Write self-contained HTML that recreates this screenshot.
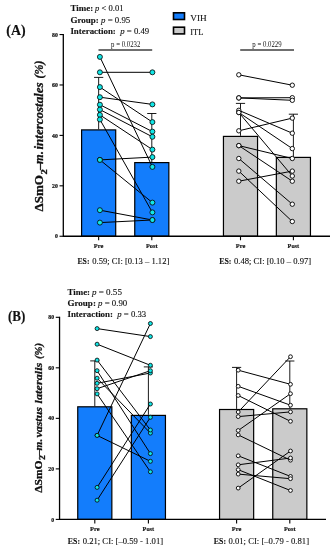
<!DOCTYPE html>
<html lang="en"><head><meta charset="utf-8"><title>Figure</title>
<style>html,body{margin:0;padding:0;background:#fff}svg{display:block}text{font-family:'Liberation Serif', serif;fill:#111}</style>
</head><body>
<svg width="333" height="550" viewBox="0 0 333 550">
<rect width="333" height="550" fill="#fff"/>
<rect x="81.60" y="129.90" width="34.1" height="106.35" fill="#137dfc" stroke="#000" stroke-width="1.2"/>
<rect x="134.75" y="162.60" width="34.1" height="73.65" fill="#137dfc" stroke="#000" stroke-width="1.2"/>
<rect x="223.45" y="136.40" width="34.1" height="99.85" fill="#cbcbcb" stroke="#000" stroke-width="1.2"/>
<rect x="276.35" y="157.40" width="34.1" height="78.85" fill="#cbcbcb" stroke="#000" stroke-width="1.2"/>
<path d="M98.65 129.30V77.40M94.05 77.40H103.25" stroke="#000" stroke-width="0.9" fill="none"/>
<path d="M151.80 162.00V113.50M147.20 113.50H156.40" stroke="#000" stroke-width="0.9" fill="none"/>
<path d="M240.50 135.80V103.40M235.90 103.40H245.10" stroke="#000" stroke-width="0.9" fill="none"/>
<path d="M293.40 156.80V114.20M288.80 114.20H298.00" stroke="#000" stroke-width="0.9" fill="none"/>
<path d="M63.3 33.95V236.90M62.65 236.25H330" stroke="#000" stroke-width="1.3" fill="none"/>
<path d="M59.50 34.55H63.3" stroke="#000" stroke-width="1.1"/>
<text x="57.9" y="36.65" font-size="5.8" font-weight="bold" font-style="normal" text-anchor="end" stroke="#111" stroke-width="0.2">80</text>
<path d="M59.50 84.97H63.3" stroke="#000" stroke-width="1.1"/>
<text x="57.9" y="87.07" font-size="5.8" font-weight="bold" font-style="normal" text-anchor="end" stroke="#111" stroke-width="0.2">60</text>
<path d="M59.50 135.40H63.3" stroke="#000" stroke-width="1.1"/>
<text x="57.9" y="137.50" font-size="5.8" font-weight="bold" font-style="normal" text-anchor="end" stroke="#111" stroke-width="0.2">40</text>
<path d="M59.50 185.82H63.3" stroke="#000" stroke-width="1.1"/>
<text x="57.9" y="187.92" font-size="5.8" font-weight="bold" font-style="normal" text-anchor="end" stroke="#111" stroke-width="0.2">20</text>
<path d="M59.50 236.25H63.3" stroke="#000" stroke-width="1.1"/>
<text x="57.9" y="238.35" font-size="5.8" font-weight="bold" font-style="normal" text-anchor="end" stroke="#111" stroke-width="0.2">0</text>
<path d="M98.65 236.25V240.25" stroke="#000" stroke-width="1.1"/>
<text x="98.65" y="248.05" font-size="6.6" font-weight="bold" font-style="normal" text-anchor="middle" textLength="9.6" lengthAdjust="spacingAndGlyphs" stroke="#111" stroke-width="0.15">Pre</text>
<path d="M151.80 236.25V240.25" stroke="#000" stroke-width="1.1"/>
<text x="151.80" y="248.05" font-size="6.6" font-weight="bold" font-style="normal" text-anchor="middle" textLength="11.6" lengthAdjust="spacingAndGlyphs" stroke="#111" stroke-width="0.15">Post</text>
<path d="M240.50 236.25V240.25" stroke="#000" stroke-width="1.1"/>
<text x="240.50" y="248.05" font-size="6.6" font-weight="bold" font-style="normal" text-anchor="middle" textLength="9.6" lengthAdjust="spacingAndGlyphs" stroke="#111" stroke-width="0.15">Pre</text>
<path d="M293.40 236.25V240.25" stroke="#000" stroke-width="1.1"/>
<text x="293.40" y="248.05" font-size="6.6" font-weight="bold" font-style="normal" text-anchor="middle" textLength="11.6" lengthAdjust="spacingAndGlyphs" stroke="#111" stroke-width="0.15">Post</text>
<path d="M99.90 56.9L152.40 166.9" stroke="#000" stroke-width="1" fill="none"/>
<path d="M99.90 72.3L152.40 72.3" stroke="#000" stroke-width="1" fill="none"/>
<path d="M99.90 87.1L152.40 122.1" stroke="#000" stroke-width="1" fill="none"/>
<path d="M99.90 97.2L152.40 104.4" stroke="#000" stroke-width="1" fill="none"/>
<path d="M99.90 104.7L152.40 131.6" stroke="#000" stroke-width="1" fill="none"/>
<path d="M99.90 109.6L152.40 136.8" stroke="#000" stroke-width="1" fill="none"/>
<path d="M99.90 114.9L152.40 149.6" stroke="#000" stroke-width="1" fill="none"/>
<path d="M99.90 119.5L152.40 212.4" stroke="#000" stroke-width="1" fill="none"/>
<path d="M99.90 159.9L152.40 157.1" stroke="#000" stroke-width="1" fill="none"/>
<path d="M99.90 159.9L152.40 202.6" stroke="#000" stroke-width="1" fill="none"/>
<path d="M99.90 210.2L152.40 220.0" stroke="#000" stroke-width="1" fill="none"/>
<path d="M99.90 222.6L152.40 220.0" stroke="#000" stroke-width="1" fill="none"/>
<circle cx="99.90" cy="56.9" r="2.5" fill="#10e6e6" stroke="#0a0a0a" stroke-width="0.85"/>
<circle cx="152.40" cy="166.9" r="2.5" fill="#10e6e6" stroke="#0a0a0a" stroke-width="0.85"/>
<circle cx="99.90" cy="72.3" r="2.5" fill="#10e6e6" stroke="#0a0a0a" stroke-width="0.85"/>
<circle cx="152.40" cy="72.3" r="2.5" fill="#10e6e6" stroke="#0a0a0a" stroke-width="0.85"/>
<circle cx="99.90" cy="87.1" r="2.5" fill="#10e6e6" stroke="#0a0a0a" stroke-width="0.85"/>
<circle cx="152.40" cy="122.1" r="2.5" fill="#10e6e6" stroke="#0a0a0a" stroke-width="0.85"/>
<circle cx="99.90" cy="97.2" r="2.5" fill="#10e6e6" stroke="#0a0a0a" stroke-width="0.85"/>
<circle cx="152.40" cy="104.4" r="2.5" fill="#10e6e6" stroke="#0a0a0a" stroke-width="0.85"/>
<circle cx="99.90" cy="104.7" r="2.5" fill="#10e6e6" stroke="#0a0a0a" stroke-width="0.85"/>
<circle cx="152.40" cy="131.6" r="2.5" fill="#10e6e6" stroke="#0a0a0a" stroke-width="0.85"/>
<circle cx="99.90" cy="109.6" r="2.5" fill="#10e6e6" stroke="#0a0a0a" stroke-width="0.85"/>
<circle cx="152.40" cy="136.8" r="2.5" fill="#10e6e6" stroke="#0a0a0a" stroke-width="0.85"/>
<circle cx="99.90" cy="114.9" r="2.5" fill="#10e6e6" stroke="#0a0a0a" stroke-width="0.85"/>
<circle cx="152.40" cy="149.6" r="2.5" fill="#10e6e6" stroke="#0a0a0a" stroke-width="0.85"/>
<circle cx="99.90" cy="119.5" r="2.5" fill="#10e6e6" stroke="#0a0a0a" stroke-width="0.85"/>
<circle cx="152.40" cy="212.4" r="2.5" fill="#10e6e6" stroke="#0a0a0a" stroke-width="0.85"/>
<circle cx="99.90" cy="159.9" r="2.5" fill="#10e6e6" stroke="#0a0a0a" stroke-width="0.85"/>
<circle cx="152.40" cy="157.1" r="2.5" fill="#10e6e6" stroke="#0a0a0a" stroke-width="0.85"/>
<circle cx="99.90" cy="159.9" r="2.5" fill="#10e6e6" stroke="#0a0a0a" stroke-width="0.85"/>
<circle cx="152.40" cy="202.6" r="2.5" fill="#10e6e6" stroke="#0a0a0a" stroke-width="0.85"/>
<circle cx="99.90" cy="210.2" r="2.5" fill="#10e6e6" stroke="#0a0a0a" stroke-width="0.85"/>
<circle cx="152.40" cy="220.0" r="2.5" fill="#10e6e6" stroke="#0a0a0a" stroke-width="0.85"/>
<circle cx="99.90" cy="222.6" r="2.5" fill="#10e6e6" stroke="#0a0a0a" stroke-width="0.85"/>
<circle cx="152.40" cy="220.0" r="2.5" fill="#10e6e6" stroke="#0a0a0a" stroke-width="0.85"/>
<path d="M238.80 74.8L292.30 85.2" stroke="#000" stroke-width="1" fill="none"/>
<path d="M238.80 97.9L292.30 97.7" stroke="#000" stroke-width="1" fill="none"/>
<path d="M238.80 97.9L292.30 100.3" stroke="#000" stroke-width="1" fill="none"/>
<path d="M238.80 110.3L292.30 133.2" stroke="#000" stroke-width="1" fill="none"/>
<path d="M238.80 112.5L292.30 148.6" stroke="#000" stroke-width="1" fill="none"/>
<path d="M238.80 112.5L292.30 176" stroke="#000" stroke-width="1" fill="none"/>
<path d="M238.80 130.8L292.30 118.1" stroke="#000" stroke-width="1" fill="none"/>
<path d="M238.80 145.6L292.30 158.5" stroke="#000" stroke-width="1" fill="none"/>
<path d="M238.80 145.6L292.30 181.2" stroke="#000" stroke-width="1" fill="none"/>
<path d="M238.80 158.5L292.30 204.2" stroke="#000" stroke-width="1" fill="none"/>
<path d="M238.80 171.1L292.30 221.5" stroke="#000" stroke-width="1" fill="none"/>
<path d="M238.80 181.2L292.30 171.1" stroke="#000" stroke-width="1" fill="none"/>
<circle cx="238.80" cy="74.8" r="2.2" fill="#fff" stroke="#0a0a0a" stroke-width="0.95"/>
<circle cx="292.30" cy="85.2" r="2.2" fill="#fff" stroke="#0a0a0a" stroke-width="0.95"/>
<circle cx="238.80" cy="97.9" r="2.2" fill="#fff" stroke="#0a0a0a" stroke-width="0.95"/>
<circle cx="292.30" cy="97.7" r="2.2" fill="#fff" stroke="#0a0a0a" stroke-width="0.95"/>
<circle cx="238.80" cy="97.9" r="2.2" fill="#fff" stroke="#0a0a0a" stroke-width="0.95"/>
<circle cx="292.30" cy="100.3" r="2.2" fill="#fff" stroke="#0a0a0a" stroke-width="0.95"/>
<circle cx="238.80" cy="110.3" r="2.2" fill="#fff" stroke="#0a0a0a" stroke-width="0.95"/>
<circle cx="292.30" cy="133.2" r="2.2" fill="#fff" stroke="#0a0a0a" stroke-width="0.95"/>
<circle cx="238.80" cy="112.5" r="2.2" fill="#fff" stroke="#0a0a0a" stroke-width="0.95"/>
<circle cx="292.30" cy="148.6" r="2.2" fill="#fff" stroke="#0a0a0a" stroke-width="0.95"/>
<circle cx="238.80" cy="112.5" r="2.2" fill="#fff" stroke="#0a0a0a" stroke-width="0.95"/>
<circle cx="292.30" cy="176" r="2.2" fill="#fff" stroke="#0a0a0a" stroke-width="0.95"/>
<circle cx="238.80" cy="130.8" r="2.2" fill="#fff" stroke="#0a0a0a" stroke-width="0.95"/>
<circle cx="292.30" cy="118.1" r="2.2" fill="#fff" stroke="#0a0a0a" stroke-width="0.95"/>
<circle cx="238.80" cy="145.6" r="2.2" fill="#fff" stroke="#0a0a0a" stroke-width="0.95"/>
<circle cx="292.30" cy="158.5" r="2.2" fill="#fff" stroke="#0a0a0a" stroke-width="0.95"/>
<circle cx="238.80" cy="145.6" r="2.2" fill="#fff" stroke="#0a0a0a" stroke-width="0.95"/>
<circle cx="292.30" cy="181.2" r="2.2" fill="#fff" stroke="#0a0a0a" stroke-width="0.95"/>
<circle cx="238.80" cy="158.5" r="2.2" fill="#fff" stroke="#0a0a0a" stroke-width="0.95"/>
<circle cx="292.30" cy="204.2" r="2.2" fill="#fff" stroke="#0a0a0a" stroke-width="0.95"/>
<circle cx="238.80" cy="171.1" r="2.2" fill="#fff" stroke="#0a0a0a" stroke-width="0.95"/>
<circle cx="292.30" cy="221.5" r="2.2" fill="#fff" stroke="#0a0a0a" stroke-width="0.95"/>
<circle cx="238.80" cy="181.2" r="2.2" fill="#fff" stroke="#0a0a0a" stroke-width="0.95"/>
<circle cx="292.30" cy="171.1" r="2.2" fill="#fff" stroke="#0a0a0a" stroke-width="0.95"/>
<rect x="77.75" y="406.80" width="34.1" height="112.60" fill="#137dfc" stroke="#000" stroke-width="1.2"/>
<rect x="131.35" y="415.40" width="34.1" height="104.00" fill="#137dfc" stroke="#000" stroke-width="1.2"/>
<rect x="219.55" y="409.50" width="34.1" height="109.90" fill="#cbcbcb" stroke="#000" stroke-width="1.2"/>
<rect x="272.75" y="408.80" width="34.1" height="110.60" fill="#cbcbcb" stroke="#000" stroke-width="1.2"/>
<path d="M94.80 406.20V360.90M90.20 360.90H99.40" stroke="#000" stroke-width="0.9" fill="none"/>
<path d="M148.40 414.80V366.90M143.80 366.90H153.00" stroke="#000" stroke-width="0.9" fill="none"/>
<path d="M236.60 408.90V367.40M232.00 367.40H241.20" stroke="#000" stroke-width="0.9" fill="none"/>
<path d="M289.80 408.20V361.00M285.20 361.00H294.40" stroke="#000" stroke-width="0.9" fill="none"/>
<path d="M59.55 316.70V520.05M58.90 519.4H326" stroke="#000" stroke-width="1.3" fill="none"/>
<path d="M55.75 317.30H59.55" stroke="#000" stroke-width="1.1"/>
<text x="54.15" y="319.40" font-size="5.8" font-weight="bold" font-style="normal" text-anchor="end" stroke="#111" stroke-width="0.2">80</text>
<path d="M55.75 367.82H59.55" stroke="#000" stroke-width="1.1"/>
<text x="54.15" y="369.93" font-size="5.8" font-weight="bold" font-style="normal" text-anchor="end" stroke="#111" stroke-width="0.2">60</text>
<path d="M55.75 418.35H59.55" stroke="#000" stroke-width="1.1"/>
<text x="54.15" y="420.45" font-size="5.8" font-weight="bold" font-style="normal" text-anchor="end" stroke="#111" stroke-width="0.2">40</text>
<path d="M55.75 468.88H59.55" stroke="#000" stroke-width="1.1"/>
<text x="54.15" y="470.98" font-size="5.8" font-weight="bold" font-style="normal" text-anchor="end" stroke="#111" stroke-width="0.2">20</text>
<path d="M55.75 519.40H59.55" stroke="#000" stroke-width="1.1"/>
<text x="54.15" y="521.50" font-size="5.8" font-weight="bold" font-style="normal" text-anchor="end" stroke="#111" stroke-width="0.2">0</text>
<path d="M94.80 519.4V523.40" stroke="#000" stroke-width="1.1"/>
<text x="94.80" y="531.20" font-size="6.6" font-weight="bold" font-style="normal" text-anchor="middle" textLength="9.6" lengthAdjust="spacingAndGlyphs" stroke="#111" stroke-width="0.15">Pre</text>
<path d="M148.40 519.4V523.40" stroke="#000" stroke-width="1.1"/>
<text x="148.40" y="531.20" font-size="6.6" font-weight="bold" font-style="normal" text-anchor="middle" textLength="11.6" lengthAdjust="spacingAndGlyphs" stroke="#111" stroke-width="0.15">Post</text>
<path d="M236.60 519.4V523.40" stroke="#000" stroke-width="1.1"/>
<text x="236.60" y="531.20" font-size="6.6" font-weight="bold" font-style="normal" text-anchor="middle" textLength="9.6" lengthAdjust="spacingAndGlyphs" stroke="#111" stroke-width="0.15">Pre</text>
<path d="M289.80 519.4V523.40" stroke="#000" stroke-width="1.1"/>
<text x="289.80" y="531.20" font-size="6.6" font-weight="bold" font-style="normal" text-anchor="middle" textLength="11.6" lengthAdjust="spacingAndGlyphs" stroke="#111" stroke-width="0.15">Post</text>
<path d="M97.10 328.6L150.40 336.6" stroke="#000" stroke-width="1" fill="none"/>
<path d="M97.10 344.2L150.40 365.3" stroke="#000" stroke-width="1" fill="none"/>
<path d="M97.10 435.4L150.40 323.5" stroke="#000" stroke-width="1" fill="none"/>
<path d="M97.10 435.4L150.40 461.3" stroke="#000" stroke-width="1" fill="none"/>
<path d="M97.10 487.4L150.40 404" stroke="#000" stroke-width="1" fill="none"/>
<path d="M97.10 500.2L150.40 417.3" stroke="#000" stroke-width="1" fill="none"/>
<path d="M97.10 378.2L150.40 433.1" stroke="#000" stroke-width="1" fill="none"/>
<path d="M97.10 383.3L150.40 373" stroke="#000" stroke-width="1" fill="none"/>
<path d="M97.10 388.7L150.40 370.7" stroke="#000" stroke-width="1" fill="none"/>
<path d="M97.10 360.1L150.40 430" stroke="#000" stroke-width="1" fill="none"/>
<path d="M97.10 370.7L150.40 453.6" stroke="#000" stroke-width="1" fill="none"/>
<path d="M97.10 393.9L150.40 471.8" stroke="#000" stroke-width="1" fill="none"/>
<circle cx="97.10" cy="328.6" r="2.0" fill="#10e6e6" stroke="#0a0a0a" stroke-width="0.85"/>
<circle cx="150.40" cy="336.6" r="2.0" fill="#10e6e6" stroke="#0a0a0a" stroke-width="0.85"/>
<circle cx="97.10" cy="344.2" r="2.0" fill="#10e6e6" stroke="#0a0a0a" stroke-width="0.85"/>
<circle cx="150.40" cy="365.3" r="2.0" fill="#10e6e6" stroke="#0a0a0a" stroke-width="0.85"/>
<circle cx="97.10" cy="435.4" r="2.0" fill="#10e6e6" stroke="#0a0a0a" stroke-width="0.85"/>
<circle cx="150.40" cy="323.5" r="2.0" fill="#10e6e6" stroke="#0a0a0a" stroke-width="0.85"/>
<circle cx="97.10" cy="435.4" r="2.0" fill="#10e6e6" stroke="#0a0a0a" stroke-width="0.85"/>
<circle cx="150.40" cy="461.3" r="2.0" fill="#10e6e6" stroke="#0a0a0a" stroke-width="0.85"/>
<circle cx="97.10" cy="487.4" r="2.0" fill="#10e6e6" stroke="#0a0a0a" stroke-width="0.85"/>
<circle cx="150.40" cy="404" r="2.0" fill="#10e6e6" stroke="#0a0a0a" stroke-width="0.85"/>
<circle cx="97.10" cy="500.2" r="2.0" fill="#10e6e6" stroke="#0a0a0a" stroke-width="0.85"/>
<circle cx="150.40" cy="417.3" r="2.0" fill="#10e6e6" stroke="#0a0a0a" stroke-width="0.85"/>
<circle cx="97.10" cy="378.2" r="2.0" fill="#10e6e6" stroke="#0a0a0a" stroke-width="0.85"/>
<circle cx="150.40" cy="433.1" r="2.0" fill="#10e6e6" stroke="#0a0a0a" stroke-width="0.85"/>
<circle cx="97.10" cy="383.3" r="2.0" fill="#10e6e6" stroke="#0a0a0a" stroke-width="0.85"/>
<circle cx="150.40" cy="373" r="2.0" fill="#10e6e6" stroke="#0a0a0a" stroke-width="0.85"/>
<circle cx="97.10" cy="388.7" r="2.0" fill="#10e6e6" stroke="#0a0a0a" stroke-width="0.85"/>
<circle cx="150.40" cy="370.7" r="2.0" fill="#10e6e6" stroke="#0a0a0a" stroke-width="0.85"/>
<circle cx="97.10" cy="360.1" r="2.0" fill="#10e6e6" stroke="#0a0a0a" stroke-width="0.85"/>
<circle cx="150.40" cy="430" r="2.0" fill="#10e6e6" stroke="#0a0a0a" stroke-width="0.85"/>
<circle cx="97.10" cy="370.7" r="2.0" fill="#10e6e6" stroke="#0a0a0a" stroke-width="0.85"/>
<circle cx="150.40" cy="453.6" r="2.0" fill="#10e6e6" stroke="#0a0a0a" stroke-width="0.85"/>
<circle cx="97.10" cy="393.9" r="2.0" fill="#10e6e6" stroke="#0a0a0a" stroke-width="0.85"/>
<circle cx="150.40" cy="471.8" r="2.0" fill="#10e6e6" stroke="#0a0a0a" stroke-width="0.85"/>
<path d="M238.20 370.2L290.50 384.3" stroke="#000" stroke-width="1" fill="none"/>
<path d="M238.20 386.3L290.50 405.2" stroke="#000" stroke-width="1" fill="none"/>
<path d="M238.20 395.5L290.50 421.3" stroke="#000" stroke-width="1" fill="none"/>
<path d="M238.20 412L290.50 356.7" stroke="#000" stroke-width="1" fill="none"/>
<path d="M238.20 416.6L290.50 411.9" stroke="#000" stroke-width="1" fill="none"/>
<path d="M238.20 430.5L290.50 393.7" stroke="#000" stroke-width="1" fill="none"/>
<path d="M238.20 434.9L290.50 460.2" stroke="#000" stroke-width="1" fill="none"/>
<path d="M238.20 455.8L290.50 476.4" stroke="#000" stroke-width="1" fill="none"/>
<path d="M238.20 464.8L290.50 458.0" stroke="#000" stroke-width="1" fill="none"/>
<path d="M238.20 469.7L290.50 490.5" stroke="#000" stroke-width="1" fill="none"/>
<path d="M238.20 474.1L290.50 478.7" stroke="#000" stroke-width="1" fill="none"/>
<path d="M238.20 488.1L290.50 451" stroke="#000" stroke-width="1" fill="none"/>
<circle cx="238.20" cy="370.2" r="1.9" fill="#fff" stroke="#0a0a0a" stroke-width="0.95"/>
<circle cx="290.50" cy="384.3" r="1.9" fill="#fff" stroke="#0a0a0a" stroke-width="0.95"/>
<circle cx="238.20" cy="386.3" r="1.9" fill="#fff" stroke="#0a0a0a" stroke-width="0.95"/>
<circle cx="290.50" cy="405.2" r="1.9" fill="#fff" stroke="#0a0a0a" stroke-width="0.95"/>
<circle cx="238.20" cy="395.5" r="1.9" fill="#fff" stroke="#0a0a0a" stroke-width="0.95"/>
<circle cx="290.50" cy="421.3" r="1.9" fill="#fff" stroke="#0a0a0a" stroke-width="0.95"/>
<circle cx="238.20" cy="412" r="1.9" fill="#fff" stroke="#0a0a0a" stroke-width="0.95"/>
<circle cx="290.50" cy="356.7" r="1.9" fill="#fff" stroke="#0a0a0a" stroke-width="0.95"/>
<circle cx="238.20" cy="416.6" r="1.9" fill="#fff" stroke="#0a0a0a" stroke-width="0.95"/>
<circle cx="290.50" cy="411.9" r="1.9" fill="#fff" stroke="#0a0a0a" stroke-width="0.95"/>
<circle cx="238.20" cy="430.5" r="1.9" fill="#fff" stroke="#0a0a0a" stroke-width="0.95"/>
<circle cx="290.50" cy="393.7" r="1.9" fill="#fff" stroke="#0a0a0a" stroke-width="0.95"/>
<circle cx="238.20" cy="434.9" r="1.9" fill="#fff" stroke="#0a0a0a" stroke-width="0.95"/>
<circle cx="290.50" cy="460.2" r="1.9" fill="#fff" stroke="#0a0a0a" stroke-width="0.95"/>
<circle cx="238.20" cy="455.8" r="1.9" fill="#fff" stroke="#0a0a0a" stroke-width="0.95"/>
<circle cx="290.50" cy="476.4" r="1.9" fill="#fff" stroke="#0a0a0a" stroke-width="0.95"/>
<circle cx="238.20" cy="464.8" r="1.9" fill="#fff" stroke="#0a0a0a" stroke-width="0.95"/>
<circle cx="290.50" cy="458.0" r="1.9" fill="#fff" stroke="#0a0a0a" stroke-width="0.95"/>
<circle cx="238.20" cy="469.7" r="1.9" fill="#fff" stroke="#0a0a0a" stroke-width="0.95"/>
<circle cx="290.50" cy="490.5" r="1.9" fill="#fff" stroke="#0a0a0a" stroke-width="0.95"/>
<circle cx="238.20" cy="474.1" r="1.9" fill="#fff" stroke="#0a0a0a" stroke-width="0.95"/>
<circle cx="290.50" cy="478.7" r="1.9" fill="#fff" stroke="#0a0a0a" stroke-width="0.95"/>
<circle cx="238.20" cy="488.1" r="1.9" fill="#fff" stroke="#0a0a0a" stroke-width="0.95"/>
<circle cx="290.50" cy="451" r="1.9" fill="#fff" stroke="#0a0a0a" stroke-width="0.95"/>
<path d="M98.5 50H152.2M240.2 50H294" stroke="#404040" stroke-width="1.6"/>
<text x="125.7" y="46.9" font-size="7.6" font-weight="normal" font-style="normal" text-anchor="middle" textLength="29.3" lengthAdjust="spacingAndGlyphs" >p = 0.0232</text>
<text x="267" y="46.9" font-size="7.6" font-weight="normal" font-style="normal" text-anchor="middle" textLength="29.3" lengthAdjust="spacingAndGlyphs" >p = 0.0229</text>
<text x="6.3" y="35.1" font-size="13.6" font-weight="bold" font-style="normal" text-anchor="start" textLength="19.3" lengthAdjust="spacingAndGlyphs" stroke="#111" stroke-width="0.15">(A)</text>
<text x="8" y="321.1" font-size="13.6" font-weight="bold" font-style="normal" text-anchor="start" textLength="17.4" lengthAdjust="spacingAndGlyphs" stroke="#111" stroke-width="0.15">(B)</text>
<text x="70.4" y="11.45" font-size="8.8" font-weight="bold" textLength="22.80" lengthAdjust="spacingAndGlyphs" stroke="#111" stroke-width="0.12">Time:</text>
<text x="95" y="11.45" font-size="8.8" textLength="28.50" lengthAdjust="spacingAndGlyphs" stroke="#111" stroke-width="0.12"><tspan font-style="italic">p</tspan> &lt; 0.01</text>
<text x="70.4" y="22.55" font-size="8.8" font-weight="bold" textLength="28.40" lengthAdjust="spacingAndGlyphs" stroke="#111" stroke-width="0.12">Group:</text>
<text x="101" y="22.55" font-size="8.8" textLength="29.30" lengthAdjust="spacingAndGlyphs" stroke="#111" stroke-width="0.12"><tspan font-style="italic">p</tspan> = 0.95</text>
<text x="70.4" y="33.65" font-size="8.8" font-weight="bold" textLength="45.40" lengthAdjust="spacingAndGlyphs" stroke="#111" stroke-width="0.12">Interaction:</text>
<text x="120.2" y="33.65" font-size="8.8" textLength="29.00" lengthAdjust="spacingAndGlyphs" stroke="#111" stroke-width="0.12"><tspan font-style="italic">p</tspan> = 0.49</text>
<text x="67.45" y="295.2" font-size="8.8" font-weight="bold" textLength="22.65" lengthAdjust="spacingAndGlyphs" stroke="#111" stroke-width="0.12">Time:</text>
<text x="92" y="295.2" font-size="8.8" textLength="29.90" lengthAdjust="spacingAndGlyphs" stroke="#111" stroke-width="0.12"><tspan font-style="italic">p</tspan> = 0.55</text>
<text x="67.45" y="306.25" font-size="8.8" font-weight="bold" textLength="28.45" lengthAdjust="spacingAndGlyphs" stroke="#111" stroke-width="0.12">Group:</text>
<text x="98" y="306.25" font-size="8.8" textLength="29.30" lengthAdjust="spacingAndGlyphs" stroke="#111" stroke-width="0.12"><tspan font-style="italic">p</tspan> = 0.90</text>
<text x="67.45" y="317.35" font-size="8.8" font-weight="bold" textLength="45.55" lengthAdjust="spacingAndGlyphs" stroke="#111" stroke-width="0.12">Interaction:</text>
<text x="117.3" y="317.35" font-size="8.8" textLength="28.90" lengthAdjust="spacingAndGlyphs" stroke="#111" stroke-width="0.12"><tspan font-style="italic">p</tspan> = 0.33</text>
<text x="77.4" y="263.8" font-size="8.8" font-weight="bold" textLength="12.10" lengthAdjust="spacingAndGlyphs" stroke="#111" stroke-width="0.12">ES:</text>
<text x="92.3" y="263.8" font-size="8.8" textLength="77.00" lengthAdjust="spacingAndGlyphs" stroke="#111" stroke-width="0.12">0.59; CI: [0.13 – 1.12]</text>
<text x="219.2" y="263.8" font-size="8.8" font-weight="bold" textLength="12.30" lengthAdjust="spacingAndGlyphs" stroke="#111" stroke-width="0.12">ES:</text>
<text x="234" y="263.8" font-size="8.8" textLength="77.10" lengthAdjust="spacingAndGlyphs" stroke="#111" stroke-width="0.12">0.48; CI: [0.10 – 0.97]</text>
<text x="67.8" y="544.2" font-size="8.8" font-weight="bold" textLength="12.20" lengthAdjust="spacingAndGlyphs" stroke="#111" stroke-width="0.12">ES:</text>
<text x="82.7" y="544.2" font-size="8.8" textLength="80.40" lengthAdjust="spacingAndGlyphs" stroke="#111" stroke-width="0.12">0.21; CI: [–0.59 - 1.01]</text>
<text x="213.8" y="544.2" font-size="8.8" font-weight="bold" textLength="12.20" lengthAdjust="spacingAndGlyphs" stroke="#111" stroke-width="0.12">ES:</text>
<text x="228.4" y="544.2" font-size="8.8" textLength="80.70" lengthAdjust="spacingAndGlyphs" stroke="#111" stroke-width="0.12">0.01; CI: [–0.79 - 0.81]</text>
<rect x="173.5" y="12.8" width="11" height="6.7" fill="#137dfc" stroke="#000" stroke-width="1.6"/>
<rect x="173.5" y="27.2" width="11" height="6.7" fill="#cbcbcb" stroke="#000" stroke-width="1.6"/>
<text x="190.3" y="20.9" font-size="8.8" font-weight="normal" font-style="normal" text-anchor="start" textLength="16.4" lengthAdjust="spacingAndGlyphs" stroke="#111" stroke-width="0.12">VIH</text>
<text x="190.3" y="35.0" font-size="8.8" font-weight="normal" font-style="normal" text-anchor="start" textLength="13.2" lengthAdjust="spacingAndGlyphs" stroke="#111" stroke-width="0.12">ITL</text>
<g transform="translate(42.8 211.7) rotate(-90)">
<text x="0.30" y="0" font-size="12.4" font-weight="bold" font-style="normal" textLength="36.30" lengthAdjust="spacingAndGlyphs" stroke="#111" stroke-width="0.3">ΔSmO</text>
<text x="37.30" y="3.8" font-size="8.6" font-weight="bold" font-style="normal" textLength="5.30" lengthAdjust="spacingAndGlyphs" stroke="#111" stroke-width="0.3">2</text>
<text x="41.70" y="0" font-size="12.4" font-weight="bold" font-style="normal" textLength="6.60" lengthAdjust="spacingAndGlyphs" stroke="#111" stroke-width="0.3">–</text>
<text x="47.70" y="0" font-size="12.4" font-weight="bold" font-style="italic" textLength="9.60" lengthAdjust="spacingAndGlyphs" stroke="#111" stroke-width="0.3">m</text>
<text x="57.60" y="0" font-size="12.4" font-weight="bold" font-style="italic" textLength="3.00" lengthAdjust="spacingAndGlyphs" stroke="#111" stroke-width="0.3">.</text>
<text x="62.20" y="0" font-size="12.4" font-weight="bold" font-style="italic" textLength="67.20" lengthAdjust="spacingAndGlyphs" stroke="#111" stroke-width="0.3">intercostales</text>
<text x="133.30" y="0" font-size="12.4" font-weight="bold" font-style="italic" textLength="17.90" lengthAdjust="spacingAndGlyphs" stroke="#111" stroke-width="0.3">(%)</text>
</g>
<g transform="translate(41.5 493) rotate(-90)">
<text x="0.30" y="0" font-size="11.4" font-weight="bold" font-style="normal" textLength="32.20" lengthAdjust="spacingAndGlyphs" stroke="#111" stroke-width="0.3">ΔSmO</text>
<text x="33.00" y="3.4" font-size="7.9" font-weight="bold" font-style="normal" textLength="4.80" lengthAdjust="spacingAndGlyphs" stroke="#111" stroke-width="0.3">2</text>
<text x="37.30" y="0" font-size="11.4" font-weight="bold" font-style="normal" textLength="6.00" lengthAdjust="spacingAndGlyphs" stroke="#111" stroke-width="0.3">–</text>
<text x="42.60" y="0" font-size="11.4" font-weight="bold" font-style="italic" textLength="8.80" lengthAdjust="spacingAndGlyphs" stroke="#111" stroke-width="0.3">m</text>
<text x="51.60" y="0" font-size="11.4" font-weight="bold" font-style="italic" textLength="2.80" lengthAdjust="spacingAndGlyphs" stroke="#111" stroke-width="0.3">.</text>
<text x="55.40" y="0" font-size="11.4" font-weight="bold" font-style="italic" textLength="30.60" lengthAdjust="spacingAndGlyphs" stroke="#111" stroke-width="0.3">vastus</text>
<text x="89.60" y="0" font-size="11.4" font-weight="bold" font-style="italic" textLength="40.70" lengthAdjust="spacingAndGlyphs" stroke="#111" stroke-width="0.3">lateralis</text>
<text x="133.90" y="0" font-size="11.4" font-weight="bold" font-style="italic" textLength="16.10" lengthAdjust="spacingAndGlyphs" stroke="#111" stroke-width="0.3">(%)</text>
</g>
</svg></body></html>
